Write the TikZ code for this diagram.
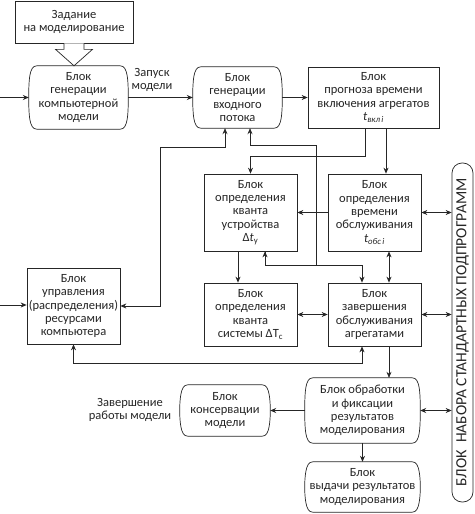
\documentclass[tikz,border=0pt]{standalone}
\usepackage{fontspec}
\setmainfont{Carlito}
\usetikzlibrary{arrows.meta,calc}
\newcommand\barrelbox[1]{%
  \draw[ln] ($(#1.north west)+(8,0)$) -- ($(#1.north east)+(-8,0)$)
    .. controls ($(#1.north east)+(-4,0)$) and ($(#1.north east)+(-2,4)$) .. ($(#1.north east)+(-1,10)$)
    .. controls ($(#1.north east)+(0.5,19)$) and ($(#1.south east)+(0.5,-19)$) .. ($(#1.south east)+(-1,-10)$)
    .. controls ($(#1.south east)+(-2,-4)$) and ($(#1.south east)+(-4,0)$) .. ($(#1.south east)+(-8,0)$)
    -- ($(#1.south west)+(8,0)$)
    .. controls ($(#1.south west)+(4,0)$) and ($(#1.south west)+(2,-4)$) .. ($(#1.south west)+(1,-10)$)
    .. controls ($(#1.south west)+(-0.5,-19)$) and ($(#1.north west)+(-0.5,19)$) .. ($(#1.north west)+(1,10)$)
    .. controls ($(#1.north west)+(2,4)$) and ($(#1.north west)+(4,0)$) .. cycle;}
\begin{document}
\begin{tikzpicture}[x=1pt,y=-1pt,
  every node/.style={font=\fontsize{12.5}{13.4}\selectfont, align=center, inner sep=1pt, text=black!85},
  blk/.style={draw=black!85, line width=0.7pt, fill=white},
  rbox/.style={},
  ln/.style={draw=black!85, line width=0.7pt},
  arr/.style={ln, -{Stealth[length=6pt,width=5pt]}},
  arr2/.style={ln, {Stealth[length=6pt,width=5pt]}-{Stealth[length=6pt,width=5pt]}}]
\useasboundingbox (0,0) rectangle (474,514);

% blocks
\node[blk, minimum width=118pt, minimum height=42pt] (task) at (74,22) {Задание\\на моделирование};
\node[rbox, minimum width=99pt, minimum height=63pt] (gencomp) at (78.5,97.5) {Блок\\генерации\\компьютерной\\модели};
\node[rbox, minimum width=89pt, minimum height=61pt] (genin) at (237.5,97.5) {Блок\\генерации\\входного\\потока};
\node[blk, minimum width=131pt, minimum height=61pt] (prog) at (373.5,97.5) {Блок\\прогноза времени\\включения агрегатов\\\textit{t}\textsubscript{\textit{вкл\,i}}};
\node[blk, minimum width=93pt, minimum height=77pt] (kvu) at (250.5,212.5) {Блок\\определения\\кванта\\устройства\\Δ\textit{t}\textsubscript{у}};
\node[blk, minimum width=93pt, minimum height=77pt] (vrem) at (374.5,212.5) {Блок\\определения\\времени\\обслуживания\\\textit{t}\textsubscript{\textit{обс\,i}}};
\node[blk, minimum width=93pt, minimum height=76pt] (ctrl) at (73.5,306) {Блок\\управления\\(распределения)\\ресурсами\\компьютера};
\node[blk, minimum width=93pt, minimum height=63pt] (kvs) at (250.5,314.5) {Блок\\определения\\кванта\\системы ΔT\textsubscript{с}};
\node[blk, minimum width=93pt, minimum height=63pt] (zav) at (374.5,314.5) {Блок\\завершения\\обслуживания\\агрегатами};
\node[rbox, minimum width=115pt, minimum height=65pt] (obr) at (362.5,410.5) {Блок обработки\\и фиксации\\результатов\\моделирования};
\node[rbox, minimum width=90pt, minimum height=51pt] (kons) at (225,410.5) {Блок\\консервации\\модели};
\node[rbox, minimum width=115pt, minimum height=50pt] (vyd) at (362.5,487) {Блок\\выдачи результатов\\моделирования};
\node[blk, rounded corners=10pt, minimum width=21pt, minimum height=339pt, inner sep=0pt] (std) at (462.5,332.5)
  {\rotatebox{90}{\fontsize{15.5}{16}\selectfont БЛОК\ \ НАБОРА СТАНДАРТНЫХ ПОДПРОГРАММ}};

\barrelbox{gencomp}
\barrelbox{genin}
\barrelbox{obr}
\barrelbox{kons}
\barrelbox{vyd}

% labels
\node (lzap) at (152,80) {Запуск\\модели};
\node (lend) at (130,410) {Завершение\\работы модели};

% block arrow task -> gencomp
\draw[ln, fill=white] ($(task.south)+(-10,0)$) -- ++(0,6) -- ++(-8.5,0) -- (task.south |- gencomp.north)
  -- ($(task.south)+(18.5,6)$) -- ++(-8.5,0) -- ($(task.south)+(10,0)$);

% connectors
\coordinate (inA) at (0,97.5);
\coordinate (inB) at (0,305);
\draw[arr] (inA) -- (gencomp.west);
\draw[arr] (inB) -- (inB -| ctrl.west);
\draw[arr] (gencomp.east) -- (genin.west);
\draw[arr] (genin.east) -- (prog.west);

% control <-> gen input
\draw[arr2] (ctrl.east) -| (160,147) -| ($(genin.south)+(-12.5,0)$);

% junction network
\coordinate (J) at (316,265);
\draw[ln] ($(kvu.south)+(14.5,0)$) |- (J);
\draw[arr] (J) -- (316,145) -| ($(genin.south)+(12.5,0)$);
\draw[arr] (J) -| ($(zav.north)+(-12.5,0)$);
\draw[arr] (J) -| ($(kvu.south)+(14.5,0)$);

% prog -> kvu, prog -> vrem
\draw[arr] ($(prog.south)+(-8.5,0)$) |- ($(kvu.north)+(0,-17)$) -- (kvu.north);
\path (prog.south) ++(12.5,0) coordinate (p1);
\draw[arr] (p1) -- (p1 |- vrem.north);

\draw[arr] (vrem.west) -- (kvu.east);
\draw[arr2] (vrem.east) -- (vrem.east -| std.west);

\path (kvu.south) ++(-12.5,0) coordinate (p2);
\draw[arr] (p2) -- (p2 |- kvs.north);

\path (vrem.south) ++(14.5,0) coordinate (p3);
\draw[arr2] (p3) -- (p3 |- zav.north);

\draw[arr2] (kvs.east) -- (zav.west);
\draw[arr2] (zav.east) -- (zav.east -| std.west);

\path (zav.south) ++(14.5,0) coordinate (p4);
\draw[arr] (p4) -- (p4 |- obr.north);

\draw[arr2] (ctrl.south) -- ++(0,19) -| ($(zav.south)+(-12.5,0)$);

\draw[arr] (obr.west) -- (kons.east);
\draw[arr2] (obr.east) -- (obr.east -| std.west);
\draw[arr] (obr.south) -- (vyd.north);
\end{tikzpicture}
\end{document}
